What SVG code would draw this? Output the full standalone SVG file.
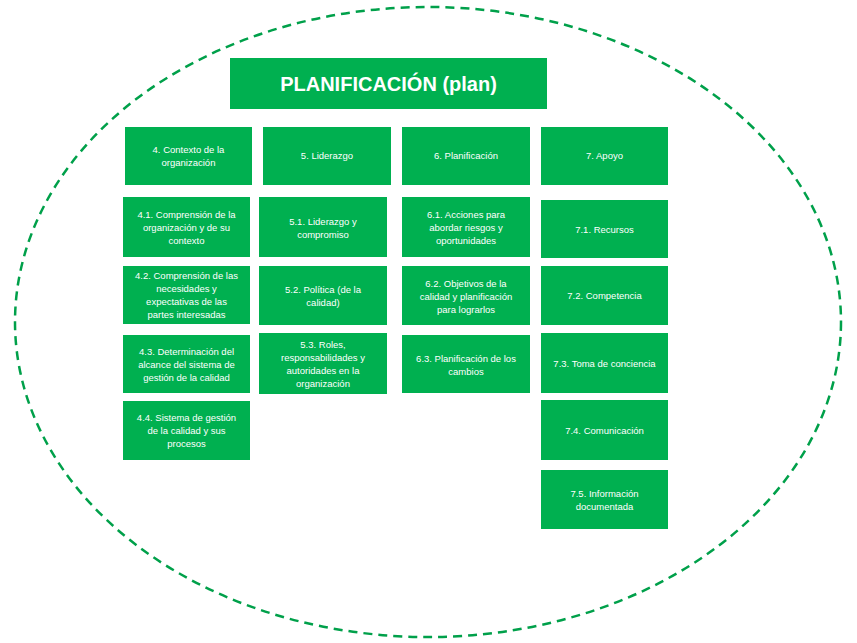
<svg xmlns="http://www.w3.org/2000/svg" width="857" height="643" viewBox="0 0 857 643">
<style>
.b{fill:#00b050;}
.t{fill:#fff;font-family:"Liberation Sans",Arial,sans-serif;font-size:9.5px;text-anchor:middle;}
.h{fill:#fff;font-family:"Liberation Sans",Arial,sans-serif;font-size:20px;font-weight:bold;text-anchor:middle;}
</style>
<rect width="857" height="643" fill="#fff"/>
<ellipse cx="428" cy="322" rx="413" ry="315" fill="none" stroke="#00a04a" stroke-width="2.5" stroke-dasharray="9,6"/>
<g id="title"><rect class="b" x="230" y="58" width="317" height="51"/><text class="h" x="388.5" y="91">PLANIFICACIÓN (plan)</text></g>
<g id="n4"><rect class="b" x="125" y="127" width="127" height="58"/><text class="t" x="188.5" y="153">4. Contexto de la</text><text class="t" x="188.5" y="166">organización</text></g>
<g id="n5"><rect class="b" x="263" y="127" width="128" height="58"/><text class="t" x="327" y="159">5. Liderazgo</text></g>
<g id="n6"><rect class="b" x="402" y="127" width="128" height="58"/><text class="t" x="466" y="159">6. Planificación</text></g>
<g id="n7"><rect class="b" x="541" y="127" width="127" height="58"/><text class="t" x="604.5" y="159">7. Apoyo</text></g>
<g id="n41"><rect class="b" x="123" y="197" width="127" height="60"/><text class="t" x="186.5" y="218">4.1. Comprensión de la</text><text class="t" x="186.5" y="231">organización y de su</text><text class="t" x="186.5" y="244">contexto</text></g>
<g id="n42"><rect class="b" x="123" y="266" width="127" height="58"/><text class="t" x="186.5" y="279">4.2. Comprensión de las</text><text class="t" x="186.5" y="292">necesidades y</text><text class="t" x="186.5" y="305">expectativas de las</text><text class="t" x="186.5" y="318">partes interesadas</text></g>
<g id="n43"><rect class="b" x="123" y="335" width="127" height="58"/><text class="t" x="186.5" y="355">4.3. Determinación del</text><text class="t" x="186.5" y="368">alcance del sistema de</text><text class="t" x="186.5" y="381">gestión de la calidad</text></g>
<g id="n44"><rect class="b" x="123" y="401" width="127" height="59"/><text class="t" x="186.5" y="421">4.4. Sistema de gestión</text><text class="t" x="186.5" y="434">de la calidad y sus</text><text class="t" x="186.5" y="447">procesos</text></g>
<g id="n51"><rect class="b" x="259" y="197" width="128" height="60"/><text class="t" x="323" y="225">5.1. Liderazgo y</text><text class="t" x="323" y="238">compromiso</text></g>
<g id="n52"><rect class="b" x="259" y="266" width="128" height="59"/><text class="t" x="323" y="293">5.2. Política (de la</text><text class="t" x="323" y="306">calidad)</text></g>
<g id="n53"><rect class="b" x="259" y="333" width="128" height="61"/><text class="t" x="323" y="348">5.3. Roles,</text><text class="t" x="323" y="361">responsabilidades y</text><text class="t" x="323" y="374">autoridades en la</text><text class="t" x="323" y="387">organización</text></g>
<g id="n61"><rect class="b" x="402" y="197" width="128" height="60"/><text class="t" x="466" y="218">6.1. Acciones para</text><text class="t" x="466" y="231">abordar riesgos y</text><text class="t" x="466" y="244">oportunidades</text></g>
<g id="n62"><rect class="b" x="402" y="266" width="128" height="59"/><text class="t" x="466" y="287">6.2. Objetivos de la</text><text class="t" x="466" y="300">calidad y planificación</text><text class="t" x="466" y="313">para lograrlos</text></g>
<g id="n63"><rect class="b" x="402" y="335" width="128" height="58"/><text class="t" x="466" y="362">6.3. Planificación de los</text><text class="t" x="466" y="375">cambios</text></g>
<g id="n71"><rect class="b" x="541" y="200" width="127" height="58"/><text class="t" x="604.5" y="233">7.1. Recursos</text></g>
<g id="n72"><rect class="b" x="541" y="266" width="127" height="59"/><text class="t" x="604.5" y="299">7.2. Competencia</text></g>
<g id="n73"><rect class="b" x="541" y="333" width="127" height="60"/><text class="t" x="604.5" y="367">7.3. Toma de conciencia</text></g>
<g id="n74"><rect class="b" x="541" y="400" width="127" height="60"/><text class="t" x="604.5" y="434">7.4. Comunicación</text></g>
<g id="n75"><rect class="b" x="541" y="470" width="127" height="59"/><text class="t" x="604.5" y="497">7.5. Información</text><text class="t" x="604.5" y="510">documentada</text></g>
<g id="connectors"/>
</svg>
